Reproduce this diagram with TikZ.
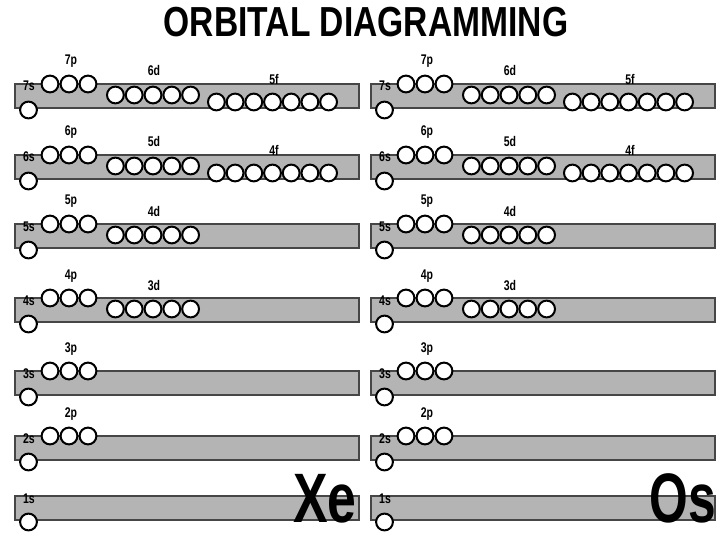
\documentclass[tikz,border=0pt]{standalone}
\usepackage{fontspec}
\setmainfont{Liberation Sans}
\definecolor{barra}{RGB}{180,180,180}
\definecolor{bordo}{RGB}{70,70,70}
\newcommand{\stretto}[2][0.75]{\scalebox{#1}[1]{#2}}
\tikzset{
  orb/.style={circle, draw=black, fill=white, line width=2pt, minimum size=16.8pt, inner sep=0pt},
  lbl/.style={anchor=base, inner sep=0pt, font=\fontsize{14}{14}\selectfont\bfseries},
  grande/.style={anchor=base east, inner sep=0pt, font=\fontsize{70}{70}\selectfont\bfseries},
  livello/.style={fill=barra, draw=bordo, line width=1.2pt}
}

\begin{document}
\begin{tikzpicture}[x=1pt,y=-1pt]
    \useasboundingbox (0,0) rectangle (720,540);

    % Titolo
    \node[anchor=base, inner sep=0pt, font=\fontsize{42}{42}\selectfont\bfseries] (titolo) at (366,37) {\stretto[0.8]{ORBITAL DIAGRAMMING}};

    % Due colonne, sette livelli
    \foreach \col/\dx in {L/0, R/356} {
      \foreach \n/\top in {7/84, 6/155, 5/224, 4/298, 3/371, 2/436, 1/496} {
        \pgfmathtruncatemacro{\nd}{\n-1}
        \pgfmathtruncatemacro{\nf}{\n-2}
        \draw[livello] (15+\dx,\top) rectangle (359+\dx,\top+24); % Barra del livello

        \node[orb] (\col\n s) at (28.5+\dx,\top+26) {}; % Orbitale s
        \node[lbl] (\col\n sl) at (29+\dx,\top+7) {\stretto{\n s}};

        \ifnum\n>1 % Orbitali p
          \foreach \i in {0,1,2}
            \node[orb] (\col\n p\i) at (50+19*\i+\dx,\top) {};
          \node[lbl] (\col\n pl) at (71+\dx,\top-19) {\stretto{\n p}};
        \fi

        \ifnum\n>3 % Orbitali d
          \foreach \i in {0,...,4}
            \node[orb] (\col\nd d\i) at (115.4+18.8*\i+\dx,\top+11) {};
          \node[lbl] (\col\nd dl) at (154+\dx,\top-8) {\stretto{\nd d}};
        \fi

        \ifnum\n>5 % Orbitali f
          \foreach \i in {0,...,6}
            \node[orb] (\col\nf f\i) at (216.4+18.7*\i+\dx,\top+18) {};
          \node[lbl] (\col\nf fl) at (274+\dx,\top+1) {\stretto{\nf f}};
        \fi
      }
    }

    % Simboli degli elementi
    \node[grande] (xeno) at (357,522) {\stretto[0.74]{Xe}};
    \node[grande] (osmio) at (716,522) {\stretto[0.71]{Os}};
\end{tikzpicture}
\end{document}
